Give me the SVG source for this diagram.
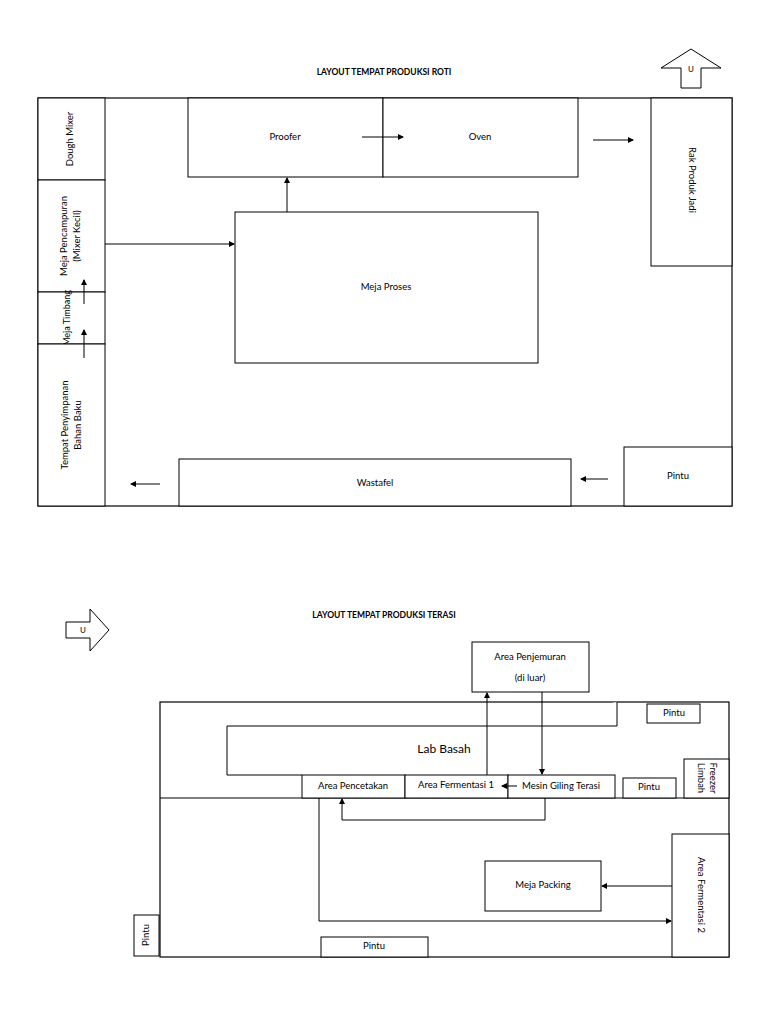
<svg xmlns="http://www.w3.org/2000/svg" width="768" height="1024" viewBox="0 0 768 1024">
<defs>
<marker id="ah" markerWidth="6" markerHeight="6" refX="5" refY="3" orient="auto" markerUnits="userSpaceOnUse"><path d="M0,0 L6,3 L0,6 z" fill="#000"/></marker>
<style>
.b{fill:#fff;stroke:#000;stroke-width:1}
.o{fill:none;stroke:#000;stroke-width:1.2}
.t{font-family:Lato,"Liberation Sans",sans-serif;font-size:9.5px;fill:#000;text-anchor:middle;dominant-baseline:middle}
.h{font-family:Lato,"Liberation Sans",sans-serif;font-size:8.5px;font-weight:bold;fill:#000;text-anchor:middle}
.c{fill:none;stroke:#000;stroke-width:1;marker-end:url(#ah)}
</style>
</defs>
<rect width="768" height="1024" fill="#fff"/>
<text class="h" x="384" y="75">LAYOUT TEMPAT PRODUKSI ROTI</text>
<g id="north1"><path class="b" d="M681,88 L681,68 L661,68 L691,49 L721,68 L701,68 L701,88 Z"/><text class="t" x="691" y="70" style="font-size:8px">U</text></g>
<rect class="o" x="38" y="98" width="694" height="408"/>
<g id="dough"><rect class="b" x="38" y="98" width="67" height="82"/><text class="t" transform="translate(71,139) rotate(-90)">Dough Mixer</text></g>
<g id="pencampuran"><rect class="b" x="38" y="180" width="67" height="112"/><text class="t" transform="translate(71,236) rotate(-90)"><tspan x="0" dy="-6">Meja Pencampuran</tspan><tspan x="0" dy="13">(Mixer Kecil)</tspan></text></g>
<g id="timbang"><rect class="b" x="38" y="292" width="67" height="52"/><text class="t" transform="translate(68,318) rotate(-90)" style="font-size:9px">Meja Timbang</text></g>
<g id="penyimpanan"><rect class="b" x="38" y="344" width="67" height="162"/><text class="t" transform="translate(72,425) rotate(-90)"><tspan x="0" dy="-6">Tempat Penyimpanan</tspan><tspan x="0" dy="13">Bahan Baku</tspan></text></g>
<g id="proofer"><rect class="b" x="188" y="98" width="195" height="79"/><text class="t" x="285" y="138">Proofer</text></g>
<g id="oven"><rect class="b" x="383" y="98" width="195" height="79"/><text class="t" x="480" y="138">Oven</text></g>
<g id="rak"><rect class="b" x="651" y="98" width="81" height="168"/><text class="t" transform="translate(691,180) rotate(90)">Rak Produk Jadi</text></g>
<g id="proses"><rect class="b" x="235" y="212" width="303" height="151"/><text class="t" x="386" y="288">Meja Proses</text></g>
<g id="wastafel"><rect class="b" x="179" y="459" width="392" height="47"/><text class="t" x="375" y="484">Wastafel</text></g>
<g id="pintu1"><rect class="b" x="624" y="447" width="108" height="59"/><text class="t" x="678" y="477">Pintu</text></g>
<g id="conn1">
<line class="c" x1="362" y1="137" x2="403" y2="137"/>
<line class="c" x1="593" y1="140" x2="633" y2="140"/>
<line class="c" x1="287" y1="212" x2="287" y2="178"/>
<line class="c" x1="105" y1="244" x2="234" y2="244"/>
<line class="c" x1="84" y1="304" x2="84" y2="280"/>
<line class="c" x1="84" y1="358" x2="84" y2="330"/>
<line class="c" x1="608" y1="479" x2="581" y2="479"/>
<line class="c" x1="160" y1="484" x2="131" y2="484"/>
</g>
<text class="h" x="384" y="618">LAYOUT TEMPAT PRODUKSI TERASI</text>
<g id="north2"><path class="b" d="M66,622 L90,622 L90,609 L109,630 L90,651 L90,638 L66,638 Z"/><text class="t" x="83" y="631" style="font-size:8px">U</text></g>
<rect class="o" x="160" y="702" width="569" height="255"/>
<line class="o" x1="160" y1="798" x2="729" y2="798"/>
<g id="penjemuran"><rect class="b" x="472" y="642" width="117" height="50"/><text class="t" x="530" y="658">Area Penjemuran</text><text class="t" x="530" y="679">(di luar)</text></g>
<g id="labbasah"><path class="b" d="M227,775 L227,726 L617,726 L617,702"/><line x1="227" y1="775" x2="302" y2="775" stroke="#000"/><text class="t" x="444" y="750" style="font-size:12px">Lab Basah</text></g>
<g id="pintu2"><rect class="b" x="647" y="704" width="53" height="19"/><text class="t" x="674" y="714">Pintu</text></g>
<g id="freezer"><rect class="b" x="684" y="759" width="45" height="39"/><text class="t" transform="translate(706,778) rotate(90)"><tspan x="0" dy="-6">Freezer</tspan><tspan x="0" dy="12">Limbah</tspan></text></g>
<g id="pencetakan"><rect class="b" x="302" y="775" width="103" height="23"/><text class="t" x="353" y="787">Area Pencetakan</text></g>
<g id="fermentasi1"><rect class="b" x="405" y="775" width="103" height="23"/><text class="t" x="456" y="786">Area Fermentasi 1</text></g>
<g id="mesin"><rect class="b" x="508" y="775" width="107" height="23"/><text class="t" x="561" y="787">Mesin Giling Terasi</text></g>
<g id="pintu3"><rect class="b" x="623" y="778" width="53" height="20"/><text class="t" x="649" y="788">Pintu</text></g>
<g id="fermentasi2"><rect class="b" x="672" y="834" width="57" height="123"/><text class="t" transform="translate(700,895) rotate(90)">Area Fermentasi 2</text></g>
<g id="packing"><rect class="b" x="485" y="861" width="116" height="50"/><text class="t" x="543" y="886">Meja Packing</text></g>
<g id="pintu4"><rect class="b" x="134" y="915" width="25" height="41"/><text class="t" transform="translate(147,935) rotate(-90)">Pintu</text></g>
<g id="pintu5"><rect class="b" x="321" y="937" width="107" height="20"/><text class="t" x="374" y="947">Pintu</text></g>
<g id="conn2">
<line class="c" x1="487" y1="775" x2="487" y2="693"/>
<line class="c" x1="542" y1="692" x2="542" y2="774"/>
<line class="c" x1="517" y1="786" x2="502" y2="786"/>
<polyline class="c" points="545,798 545,820 342,820 342,799"/>
<polyline class="c" points="319,798 319,921 671,921"/>
<line class="c" x1="672" y1="886" x2="602" y2="886"/>
</g>
</svg>
